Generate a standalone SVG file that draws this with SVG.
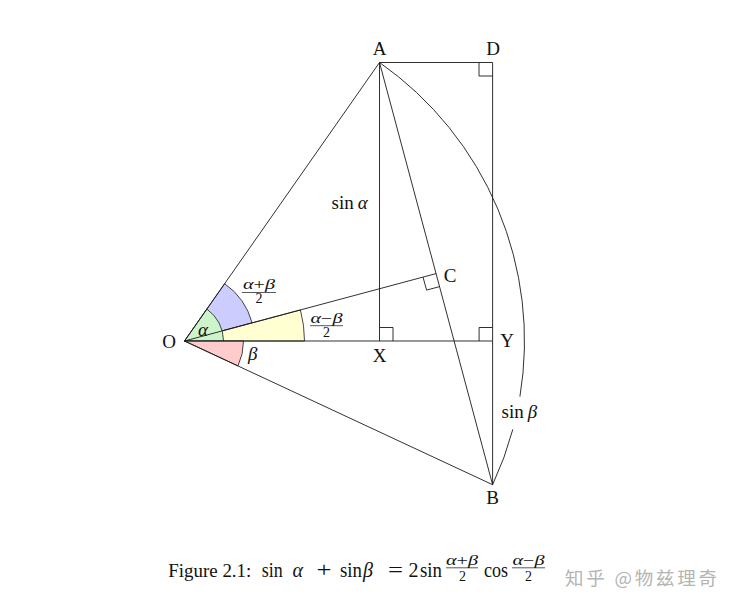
<svg xmlns="http://www.w3.org/2000/svg" width="737" height="611" viewBox="0 0 737 611">
<style>
.ln{stroke:#1a1a1a;stroke-width:0.9;fill:none}
.sec{stroke:#1a1a1a;stroke-width:0.8}
.lb{font-family:"Liberation Serif","Times New Roman",serif;font-size:19px;fill:#111}
.cp{font-size:20px}
.it{font-style:italic}
.fr{font-family:"Liberation Serif","Times New Roman",serif;font-size:14px;fill:#111;text-anchor:middle}
.bar{stroke:#111;stroke-width:0.7}
.wm{font-family:"Noto Sans CJK SC","Noto Sans",sans-serif;font-size:18.5px;fill:#b4b4b4}
</style>
<rect width="737" height="611" fill="#fff"/>
<g id="angles">
<path class="sec" fill="#ccccff" d="M184.5,341 L252.11,322.88 A70,70 0 0 0 224.65,283.66 Z"/>
<path class="sec" fill="#ffffd2" d="M184.5,341 L304.5,341 A120,120 0 0 0 300.41,309.94 Z"/>
<path class="sec" fill="#ccf5cc" d="M184.5,341 L223.5,341 A39,39 0 0 0 206.87,309.05 Z"/>
<path class="sec" fill="#ffcccc" d="M184.5,341 L243.5,341 A59,59 0 0 1 237.97,365.93 Z"/>
</g>
<g id="connectors">
<line class="ln" x1="184.5" y1="341" x2="379.5" y2="62.5"/>
<line class="ln" x1="184.5" y1="341" x2="492.6" y2="484.7"/>
<line class="ln" x1="184.5" y1="341" x2="492.6" y2="341"/>
<line class="ln" x1="184.5" y1="341" x2="436.05" y2="273.6"/>
<line class="ln" x1="379.5" y1="62.5" x2="492.6" y2="62.5"/>
<line class="ln" x1="379.5" y1="62.5" x2="379.5" y2="341"/>
<line class="ln" x1="379.5" y1="62.5" x2="492.6" y2="484.7"/>
<line class="ln" x1="492.6" y1="62.5" x2="492.6" y2="484.7"/>
<path class="ln" d="M379.52,62.49 A340,340 0 0 1 519.93,396.53"/>
<path class="ln" d="M512.83,429.33 A340,340 0 0 1 492.64,484.69"/>
</g>
<g id="right-angles">
<polyline class="ln" points="479,62.5 479,76 492.6,76"/>
<polyline class="ln" points="379.5,327.5 393,327.5 393,341"/>
<polyline class="ln" points="479.1,341 479.1,327.5 492.6,327.5"/>
<polyline class="ln" points="423.0,277.1 426.6,290.1 439.6,286.6"/>
</g>
<g id="O"><text class="lb" x="169" y="348" text-anchor="middle">O</text></g>
<g id="A"><text class="lb" x="379.5" y="55" text-anchor="middle">A</text></g>
<g id="D"><text class="lb" x="493" y="55" text-anchor="middle">D</text></g>
<g id="X"><text class="lb" x="379.5" y="362" text-anchor="middle">X</text></g>
<g id="Y"><text class="lb" x="507" y="347" text-anchor="middle">Y</text></g>
<g id="C"><text class="lb" x="450" y="282" text-anchor="middle">C</text></g>
<g id="B"><text class="lb" x="492.6" y="504" text-anchor="middle">B</text></g>
<g id="labels">
<text class="lb" x="331.5" y="209"><tspan>sin</tspan><tspan class="it" dx="4">α</tspan></text>
<text class="lb" x="501.5" y="418"><tspan>sin</tspan><tspan class="it" dx="4">β</tspan></text>
<text class="lb it" x="198" y="336">α</text>
<text class="lb it" x="248" y="360">β</text>
<text class="fr" x="259" y="289" textLength="32" lengthAdjust="spacingAndGlyphs"><tspan class="it">α</tspan>+<tspan class="it">β</tspan></text>
<line class="bar" x1="242" y1="292.5" x2="276" y2="292.5"/>
<text class="fr" x="259" y="303">2</text>
<text class="fr" x="326.5" y="322.5" textLength="32" lengthAdjust="spacingAndGlyphs"><tspan class="it">α</tspan>−<tspan class="it">β</tspan></text>
<line class="bar" x1="310" y1="325.7" x2="343" y2="325.7"/>
<text class="fr" x="326.5" y="336.5">2</text>
</g>
<g id="caption">
<text class="lb" x="168.3" y="577" textLength="83" lengthAdjust="spacingAndGlyphs">Figure 2.1:</text>
<text class="lb cp" x="261.7" y="577" textLength="21" lengthAdjust="spacingAndGlyphs">sin</text>
<text class="lb cp it" x="292.5" y="577">α</text>
<text class="lb cp" x="316.5" y="577" textLength="15" lengthAdjust="spacingAndGlyphs">+</text>
<text class="lb cp" x="340" y="577" textLength="22" lengthAdjust="spacingAndGlyphs">sin</text>
<text class="lb cp it" x="363" y="577">β</text>
<text class="lb cp" x="388" y="577" textLength="15" lengthAdjust="spacingAndGlyphs">=</text>
<text class="lb cp" x="408.5" y="577">2</text>
<text class="lb cp" x="420" y="577" textLength="22" lengthAdjust="spacingAndGlyphs">sin</text>
<text class="fr" x="462" y="565" textLength="32" lengthAdjust="spacingAndGlyphs"><tspan class="it">α</tspan>+<tspan class="it">β</tspan></text>
<line class="bar" x1="446" y1="567.8" x2="478" y2="567.8"/>
<text class="fr" x="462.5" y="580.5">2</text>
<text class="lb cp" x="484" y="577" textLength="24" lengthAdjust="spacingAndGlyphs">cos</text>
<text class="fr" x="528.5" y="565" textLength="32" lengthAdjust="spacingAndGlyphs"><tspan class="it">α</tspan>−<tspan class="it">β</tspan></text>
<line class="bar" x1="512" y1="567.8" x2="545" y2="567.8"/>
<text class="fr" x="528.5" y="580.5">2</text>
</g>
<g id="watermark">
<text class="wm" x="565" y="585" textLength="152">知乎 @物兹理奇</text>
</g>
</svg>
